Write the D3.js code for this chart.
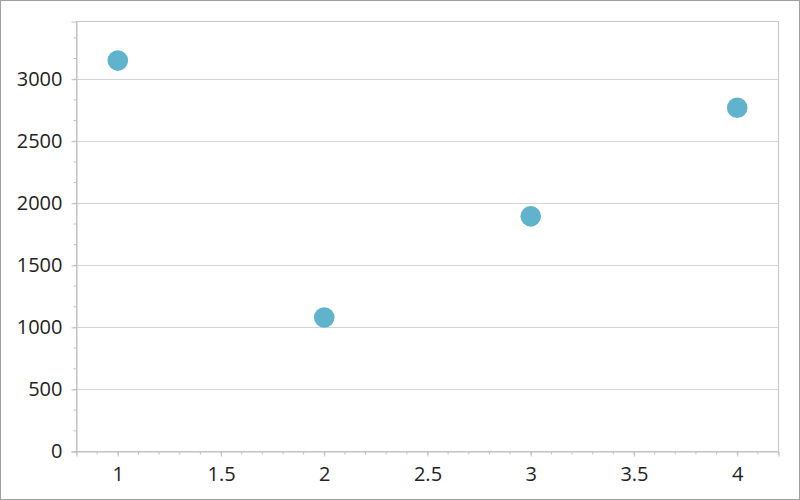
<!DOCTYPE html>
<html lang="en">
<head>
<meta charset="utf-8">
<title>Scatter</title>
<script src="https://cdnjs.cloudflare.com/ajax/libs/d3/7.8.5/d3.min.js"></script>
<style>
body { margin: 0; background: #fff; }
text { font-family: "Open Sans", "DejaVu Sans", sans-serif; }
</style>
</head>
<body>
<div id="chart"></div>
<script>

var xValues = [1, 2, 3, 4]
var yValues = [3150, 1080, 1895, 2770]
var xTicks = [1, 1.5, 2, 2.5, 3, 3.5, 4]
var yTicks = [0, 500, 1000, 1500, 2000, 2500, 3000]

var width = 800, height = 500,
    margins = { top: 21.5, right: 21.5, bottom: 48.5, left: 76.5 },
    plotW = width - margins.left - margins.right,
    plotH = height - margins.top - margins.bottom

var svg = d3.select('#chart').append('svg')
    .attr('width', width)
    .attr('height', height)

// outer frame
svg.append('rect')
    .attr('x', 0.5).attr('y', 0.5)
    .attr('width', width - 1).attr('height', height - 1)
    .attr('fill', '#fff').attr('stroke', '#a0a0a0')

var g = svg.append('g')
    .attr('transform', 'translate(' + margins.left + ',' + margins.top + ')')

var x = d3.scaleLinear().domain([0.8, 4.2]).range([0, plotW])
var y = d3.scaleLinear().domain([0, 3465]).range([plotH, 0])

// grid
g.selectAll('.grid')
    .data(yTicks)
    .enter().append('line')
    .attr('x1', 0).attr('x2', plotW)
    .attr('y1', function(d) { return Math.round(y(d)) })
    .attr('y2', function(d) { return Math.round(y(d)) })
    .attr('stroke', '#d3d3d3')

// plot border
g.append('rect')
    .attr('width', plotW).attr('height', plotH)
    .attr('fill', 'none').attr('stroke', '#c8c8c8')

// minor ticks
var xMinor = d3.range(0.8, 4.21, 0.1)
g.selectAll('.xminor')
    .data(xMinor)
    .enter().append('line')
    .attr('x1', function(d) { return x(d) }).attr('x2', function(d) { return x(d) })
    .attr('y1', plotH).attr('y2', plotH + 3)
    .attr('stroke', '#c0c0c0')

var yMinor = d3.range(0, 3465, 500 / 3)
g.selectAll('.yminor')
    .data(yMinor)
    .enter().append('line')
    .attr('x1', -3).attr('x2', 0)
    .attr('y1', function(d) { return y(d) }).attr('y2', function(d) { return y(d) })
    .attr('stroke', '#c0c0c0')

// axes
var xAxis = g.append('g')
    .attr('transform', 'translate(0,' + plotH + ')')
    .call(d3.axisBottom(x).tickValues(xTicks).tickSize(5).tickPadding(10).tickFormat(d3.format('')))
var yAxis = g.append('g')
    .call(d3.axisLeft(y).tickValues(yTicks).tickSize(5).tickPadding(9).tickFormat(d3.format('')))

;[xAxis, yAxis].forEach(function(a) {
    a.select('.domain').attr('stroke', '#c0c0c0')
    a.selectAll('.tick line').attr('stroke', '#c0c0c0')
    a.selectAll('.tick text')
        .attr('fill', '#222')
        .style('font-size', '20px')
        .style('font-family', '"Open Sans", "DejaVu Sans", sans-serif')
})

// points
g.selectAll('.pt')
    .data(xValues)
    .enter().append('circle')
    .attr('cx', function(d) { return x(d) })
    .attr('cy', function(d, i) { return y(yValues[i]) })
    .attr('r', 10.3)
    .attr('fill', '#5fb3cc')

</script>
</body>
</html>
